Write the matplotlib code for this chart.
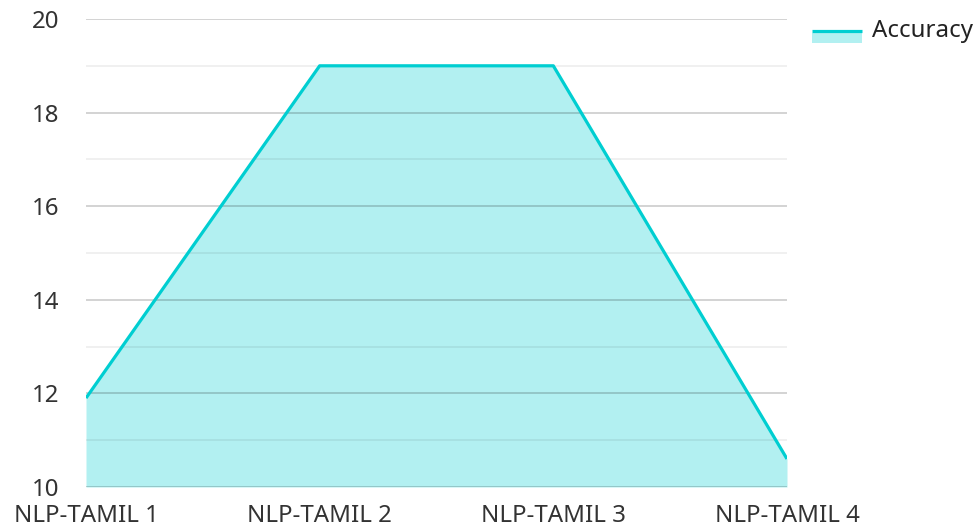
import matplotlib
matplotlib.use("Agg")
import matplotlib.pyplot as plt
from matplotlib.patches import Rectangle
from matplotlib.lines import Line2D
from matplotlib.legend_handler import HandlerBase
from matplotlib.ticker import MultipleLocator

categories = ["NLP-TAMIL 1", "NLP-TAMIL 2", "NLP-TAMIL 3", "NLP-TAMIL 4"]
accuracy = [11.9, 19, 19, 10.6]
series_name = "Accuracy"

plt.rcParams['font.family'] = ['Noto Sans', 'DejaVu Sans']

LINE = "#00CED1"
FS = 17.3
FPX = FS * 100 / 72
W, H = 977, 526
fig = plt.figure(figsize=(W / 100, H / 100), dpi=100)
ax = fig.add_axes([86 / W, (H - 487) / H, (787 - 86) / W, (487 - 19) / H])

x = list(range(len(categories)))
ax.fill_between(x, accuracy, 10, color=LINE, alpha=0.3, linewidth=0, zorder=1)
ax.plot(x, accuracy, color=LINE, linewidth=2.3, zorder=3, solid_capstyle='butt')

ax.set_xlim(0, len(categories) - 1)
ax.set_ylim(10, 20)
ax.yaxis.set_major_locator(MultipleLocator(2))
ax.yaxis.set_minor_locator(MultipleLocator(1))
ax.grid(axis='y', which='major', color='black', alpha=0.2, linewidth=1.2, zorder=2)
ax.grid(axis='y', which='minor', color='black', alpha=0.07, linewidth=1.2, zorder=2)
ax.set_axisbelow(False)
for s in ax.spines.values():
    s.set_visible(False)

ax.set_xticks(x)
ax.set_xticklabels(categories)
ax.tick_params(axis='both', which='both', length=0, labelsize=FS, colors='#333333')
ax.tick_params(axis='y', pad=19)
ax.tick_params(axis='x', pad=12)


class HandlerAreaLine(HandlerBase):
    def create_artists(self, legend, orig_handle, xdescent, ydescent, width, height, fontsize, trans):
        c = -ydescent + height / 2
        rect = Rectangle((-xdescent, c - 9.6), width, 7.2,
                         facecolor=LINE, alpha=0.3, linewidth=0, transform=trans)
        line = Line2D([-xdescent, -xdescent + width], [c - 0.9, c - 0.9], color=LINE, linewidth=2.3,
                      transform=trans, solid_capstyle='butt')
        return [rect, line]


handle = Rectangle((0, 0), 1, 1)
fig.legend([handle], [series_name], handler_map={Rectangle: HandlerAreaLine()},
           loc='center left', bbox_to_anchor=(812 / W, 1 - 31 / H), frameon=False,
           borderpad=0, borderaxespad=0, handlelength=50 / FPX, handleheight=1.0,
           handletextpad=10 / FPX, fontsize=FS, labelcolor='#222222')

fig.savefig("out.png", dpi=100)
